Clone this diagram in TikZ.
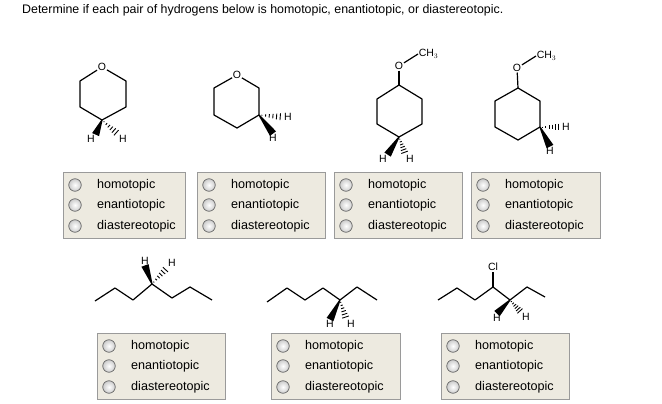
\documentclass[tikz,border=0pt]{standalone}
\usepackage{fontspec}
\setmainfont{Liberation Sans}
\usetikzlibrary{calc}
\definecolor{boxfill}{HTML}{EDEAE0}
\definecolor{boxline}{HTML}{9A9A9A}
\tikzset{
 bond/.style={line width=1.2pt,line join=round},
 atom/.style={inner sep=0.6pt,font=\fontsize{10.5}{11}\selectfont},
 optbox/.style={draw=boxline,fill=boxfill,line width=1.3pt,minimum width=#1,minimum height=66pt,anchor=north west,inner sep=0},
 radio/.style={circle,draw=gray!80!black,line width=0.7pt,inner color=white,outer color=gray!40,minimum size=12.5pt,inner sep=0},
 opt/.style={anchor=west,font=\fontsize{12.6}{13}\selectfont,inner sep=0}
}
\newcommand\wedgeb[2]{\fill ($(#1)!0.6pt!90:(#2)$) -- ($(#1)!0.6pt!-90:(#2)$) -- ($(#2)!3.8pt!90:(#1)$) -- ($(#2)!3.8pt!-90:(#1)$) -- cycle;}
\newcommand\hashb[2]{\foreach \t in {0.12,0.27,...,0.95}{\draw[line width=0.9pt] ($(#1)!\t!(#2)!{\t*4pt}!90:(#2)$) -- ($(#1)!\t!(#2)!{\t*4pt}!-90:(#2)$);}}
\newcommand\choices[3]{% name, position, width
 \node[optbox=#3] (#1) at (#2) {};
 \node[radio] (#1r1) at ($(#1.north west)+(12pt,-13pt)$) {};
 \node[radio] (#1r2) at ($(#1.north west)+(12pt,-33pt)$) {};
 \node[radio] (#1r3) at ($(#1.north west)+(12pt,-54pt)$) {};
 \node[opt] (#1t1) at ($(#1r1)+(22pt,0)$) {homotopic};
 \node[opt] (#1t2) at ($(#1r2)+(22pt,0)$) {enantiotopic};
 \node[opt] (#1t3) at ($(#1r3)+(22pt,0)$) {diastereotopic};
}
\begin{document}
\begin{tikzpicture}[x=1pt,y=-1pt]
\path[use as bounding box,fill=white] (0,0) rectangle (662,404);
\node[anchor=west,font=\fontsize{12.4}{13}\selectfont,inner sep=0] (title) at (22,10) {Determine if each pair of hydrogens below is homotopic, enantiotopic, or diastereotopic.};

% molecule 1
\node[atom] (o1) at (102,67) {O};
\coordinate (a2) at (126,81); \coordinate (a3) at (126,107); \coordinate (a4) at (102,120);
\coordinate (a5) at (80,107); \coordinate (a6) at (80,81);
\node[atom] (h1a) at (91,139) {H}; \node[atom] (h1b) at (123,139) {H};
\draw[bond] (o1) -- (a2) -- (a3) -- (a4) -- (a5) -- (a6) -- (o1);
\wedgeb{a4}{h1a.north east} \hashb{a4}{h1b.north west}

% molecule 2
\node[atom] (o2) at (237,75) {O};
\coordinate (b2) at (259,88); \coordinate (b3) at (259,115); \coordinate (b4) at (237,128);
\coordinate (b5) at (214,115); \coordinate (b6) at (214,88);
\node[atom] (h2a) at (288,117) {H}; \node[atom] (h2b) at (273,138) {H};
\draw[bond] (o2) -- (b2) -- (b3) -- (b4) -- (b5) -- (b6) -- (o2);
\hashb{b3}{h2a.west} \wedgeb{b3}{h2b.north}

% molecule 3
\node[atom] (o3) at (399,66) {O}; \node[atom,anchor=west] (m3) at (418,54) {CH$_3$};
\coordinate (c1) at (399,85); \coordinate (c2) at (422,99); \coordinate (c3) at (422,124);
\coordinate (c4) at (399,137); \coordinate (c5) at (377,124); \coordinate (c6) at (377,99);
\node[atom] (h3a) at (383,159) {H}; \node[atom] (h3b) at (410,159) {H};
\draw[bond] (o3) -- (m3.west); \draw[bond] (o3) -- (c1);
\draw[bond] (c1) -- (c2) -- (c3) -- (c4) -- (c5) -- (c6) -- cycle;
\wedgeb{c4}{h3a.north east} \hashb{c4}{h3b.north west}

% molecule 4
\node[atom] (o4) at (517,68) {O}; \node[atom,anchor=west] (m4) at (536,56) {CH$_3$};
\coordinate (d1) at (518,88); \coordinate (d2) at (540,101); \coordinate (d3) at (540,127);
\coordinate (d4) at (518,140); \coordinate (d5) at (495,127); \coordinate (d6) at (495,101);
\node[atom] (h4a) at (566,127) {H}; \node[atom] (h4b) at (550,151) {H};
\draw[bond] (o4) -- (m4.west); \draw[bond] (o4) -- (d1);
\draw[bond] (d1) -- (d2) -- (d3) -- (d4) -- (d5) -- (d6) -- cycle;
\hashb{d3}{h4a.west} \wedgeb{d3}{h4b.north}

% molecule 5
\coordinate (e1) at (95,301); \coordinate (e2) at (115,288); \coordinate (e3) at (133,300);
\coordinate (e4) at (152,284); \coordinate (e5) at (172,298); \coordinate (e6) at (190,287); \coordinate (e7) at (212,300);
\draw[bond] (e1) -- (e2) -- (e3) -- (e4) -- (e5) -- (e6) -- (e7);
\node[atom] (h5a) at (145,261) {H}; \node[atom] (h5b) at (172,263) {H};
\wedgeb{e4}{h5a.south} \hashb{e4}{h5b.south west}

% molecule 6
\coordinate (f1) at (267,302); \coordinate (f2) at (287,288); \coordinate (f3) at (305,300);
\coordinate (f4) at (323,288); \coordinate (f5) at (340,300); \coordinate (f6) at (357,287); \coordinate (f7) at (377,300);
\draw[bond] (f1) -- (f2) -- (f3) -- (f4) -- (f5) -- (f6) -- (f7);
\node[atom] (h6a) at (330,324) {H}; \node[atom] (h6b) at (351,324) {H};
\wedgeb{f5}{h6a.north} \hashb{f5}{h6b.north west}

% molecule 7
\coordinate (g1) at (438,300); \coordinate (g2) at (457,288); \coordinate (g3) at (475,300);
\coordinate (g4) at (493,287); \coordinate (g5) at (510,300); \coordinate (g6) at (527,287); \coordinate (g7) at (545,297);
\node[atom] (cl) at (493,267) {Cl};
\draw[bond] (g1) -- (g2) -- (g3) -- (g4) -- (g5) -- (g6) -- (g7);
\draw[bond] (g4) -- (cl);
\node[atom] (h7a) at (497,318) {H}; \node[atom] (h7b) at (526,317) {H};
\wedgeb{g5}{h7a.north} \hashb{g5}{h7b.north west}

% answer boxes
\choices{q1}{63,172}{122pt}
\choices{q2}{197,172}{128pt}
\choices{q3}{334,172}{128pt}
\choices{q4}{471,172}{129pt}
\choices{q5}{97,333}{128pt}
\choices{q6}{271,333}{129pt}
\choices{q7}{441,333}{128pt}
\end{tikzpicture}
\end{document}
